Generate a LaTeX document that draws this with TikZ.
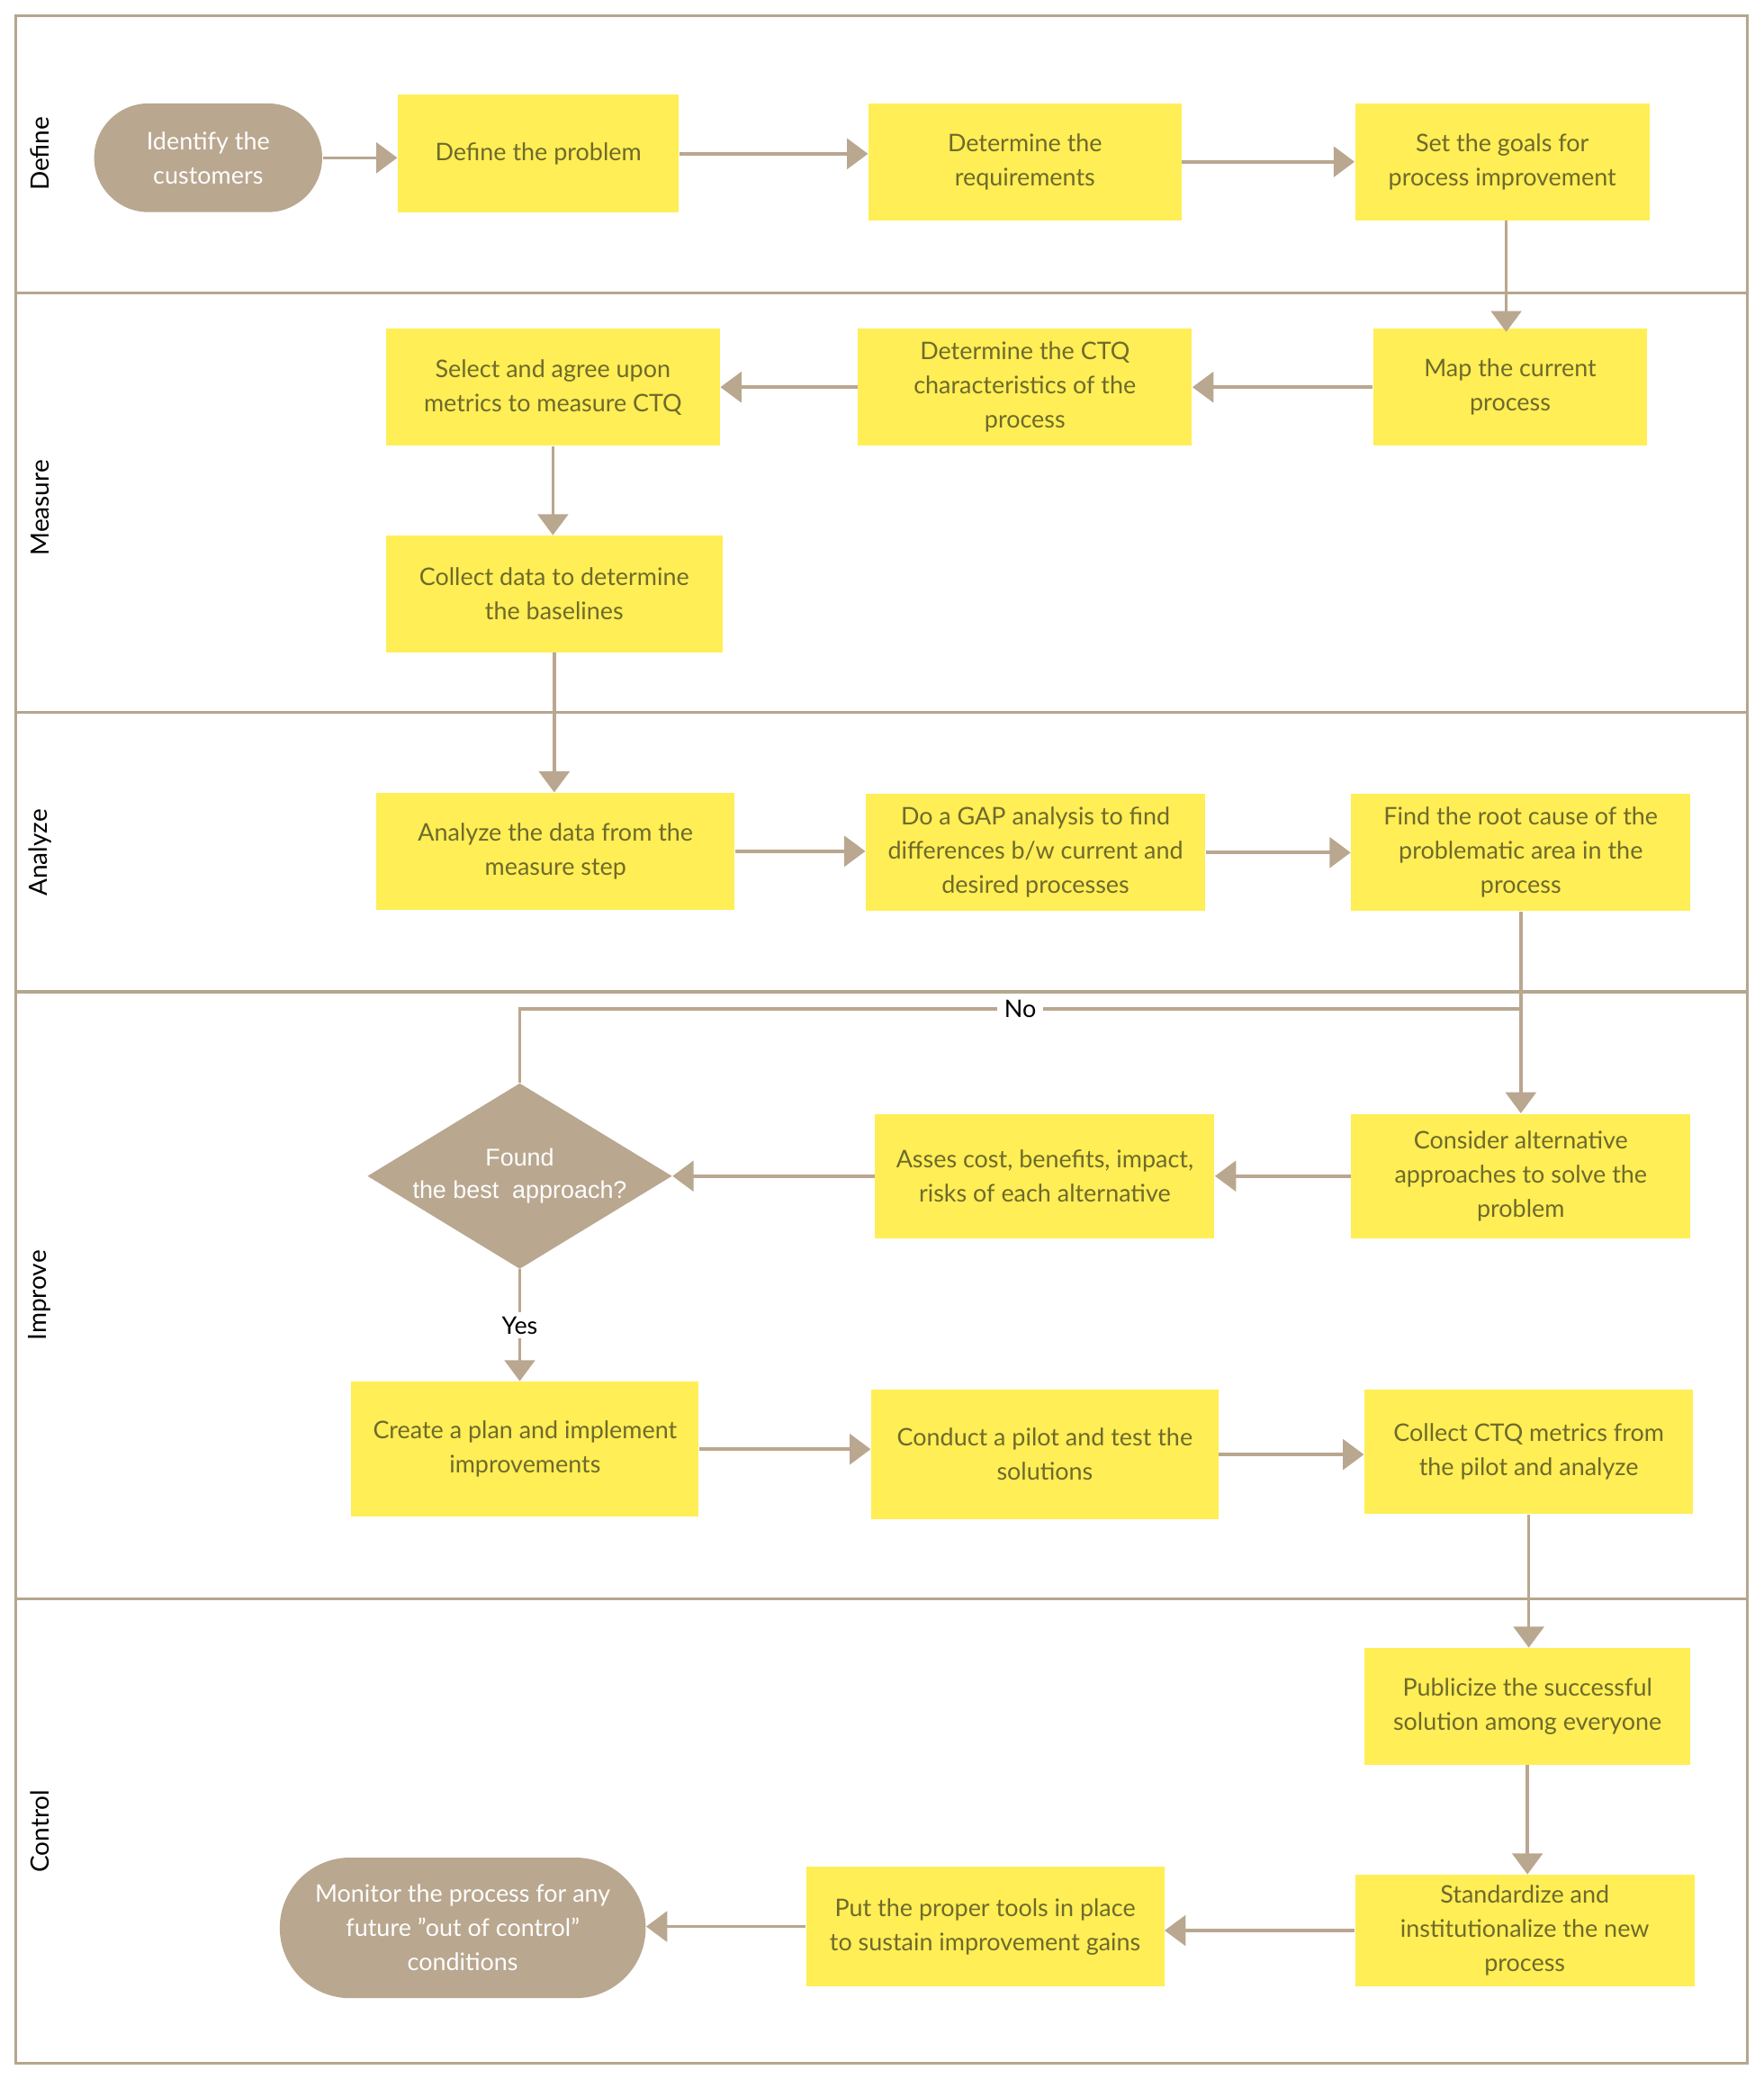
\documentclass[tikz,border=0pt]{standalone}
\usepackage{fontspec}
\setmainfont{Lato}
\newfontfamily\diafont{Liberation Sans}
\usetikzlibrary{arrows.meta,shapes.geometric,shapes.misc}
\definecolor{tan}{HTML}{B9A78F}
\definecolor{note}{HTML}{FFEE55}
\definecolor{ink}{HTML}{6E6A2C}
\definecolor{lane}{HTML}{B5A68E}
\tikzset{
    box/.style={rectangle,fill=note,text=ink,align=center,inner sep=0pt},
    flow/.style={draw=tan,line width=1.4pt,-{Triangle[length=9pt,width=13pt]}}
}
\begin{document}
\begin{tikzpicture}[x=0.02cm,y=-0.02cm,font=\fontsize{10.4}{14.7}\selectfont]
        \useasboundingbox (0,0) rectangle (1330,1568);
        % swimlanes
        \draw[lane,line width=1.2pt] (12,12) rectangle (1318,1556);
        \foreach \y in {221,537,748,1206}
            \draw[lane,line width=1.2pt] (12,\y) -- (1318,\y);
        \foreach \y/\t in {116/Define,383/Measure,643/Analyze,977/Improve,1381/Control}
            \node[rotate=90,font=\fontsize{10.8}{12}\selectfont] at (30,\y) {\t};
        \begin{scope}[every node/.style={box}]
            \node (define) [minimum width=212*0.02cm,minimum height=89*0.02cm] at (406,116) {Define the problem};
            \node (require) [minimum width=236*0.02cm,minimum height=88*0.02cm] at (773,122) {Determine the\\requirements};
            \node (goals) [minimum width=222*0.02cm,minimum height=88*0.02cm] at (1133,122) {Set the goals for\\process improvement};
            \node (map) [minimum width=207*0.02cm,minimum height=88*0.02cm] at (1139,292) {Map the current\\process};
            \node (ctq) [minimum width=252*0.02cm,minimum height=88*0.02cm] at (773,292) {Determine the CTQ\\characteristics of the\\process};
            \node (metrics) [minimum width=252*0.02cm,minimum height=88*0.02cm] at (417,292) {Select and agree upon\\metrics to measure CTQ};
            \node (collect) [minimum width=254*0.02cm,minimum height=88*0.02cm] at (418,448) {Collect data to determine\\the baselines};
            \node (analyze) [minimum width=270*0.02cm,minimum height=88*0.02cm] at (419,642) {Analyze the data from the\\measure step};
            \node (gap) [minimum width=256*0.02cm,minimum height=88*0.02cm] at (781,643) {Do a GAP analysis to find\\differences b/w current and\\desired processes};
            \node (root) [minimum width=256*0.02cm,minimum height=88*0.02cm] at (1147,643) {Find the root cause of the\\problematic area in the\\process};
            \node (consider) [minimum width=256*0.02cm,minimum height=94*0.02cm] at (1147,887) {Consider alternative\\approaches to solve the\\problem};
            \node (asses) [minimum width=256*0.02cm,minimum height=94*0.02cm] at (788,887) {Asses cost, benefits, impact,\\risks of each alternative};
            \node (plan) [minimum width=262*0.02cm,minimum height=102*0.02cm] at (396,1093) {Create a plan and implement\\improvements};
            \node (pilot) [minimum width=262*0.02cm,minimum height=98*0.02cm] at (788,1097) {Conduct a pilot and test the\\solutions};
            \node (ctqpilot) [minimum width=248*0.02cm,minimum height=94*0.02cm] at (1153,1095) {Collect CTQ metrics from\\the pilot and analyze};
            \node (publicize) [minimum width=246*0.02cm,minimum height=88*0.02cm] at (1152,1287) {Publicize the successful\\solution among everyone};
            \node (standard) [minimum width=256*0.02cm,minimum height=84*0.02cm] at (1150,1456) {Standardize and\\institutionalize the new\\process};
            \node (tools) [minimum width=270*0.02cm,minimum height=90*0.02cm] at (743,1453) {Put the proper tools in place\\to sustain improvement gains};
        \end{scope}
        \begin{scope}[every node/.style={rounded rectangle,fill=tan,text=white,align=center,inner sep=0pt}]
            \node (customers) [minimum width=172*0.02cm,minimum height=82*0.02cm] at (157,119) {Identify the\\customers};
            \node (monitor) [minimum width=276*0.02cm,minimum height=106*0.02cm] at (349,1454) {Monitor the process for any\\future "out of control"\\conditions};
        \end{scope}
        \node (found) [diamond,fill=tan,text=white,align=center,inner sep=0pt,minimum width=220*0.02cm,minimum height=134*0.02cm,aspect=1.64,font=\diafont\fontsize{10.4}{14}\selectfont] at (392,887) {Found\\the best\ \ approach?};
        \coordinate (nr) at (1147,761);
        \coordinate (nl) at (392,761);
        \begin{scope}[every path/.style={flow}]
            \draw (customers.east) -- (customers.east -| define.west);
            \draw (define.east) -- (define.east -| require.west);
            \draw (require.east) -- (require.east -| goals.west);
            \draw (goals.south) ++(3,0) -- ++(0,84);
            \draw (map.west) -- (map.west -| ctq.east);
            \draw (ctq.west) -- (ctq.west -| metrics.east);
            \draw (metrics.south) -- (metrics.south |- collect.north);
            \draw (collect.south) -- (collect.south |- analyze.north);
            \draw (analyze.east) -- (analyze.east -| gap.west);
            \draw (gap.east) -- (gap.east -| root.west);
            \draw (root) -- (consider);
            \draw (consider) -- (asses);
            \draw (asses) -- (found);
            \draw (found.south) -- node[fill=white,text=black,inner sep=2pt] {Yes} (found.south |- plan.north);
            \draw (plan.east) -- (plan.east -| pilot.west);
            \draw (pilot.east) -- (pilot.east -| ctqpilot.west);
            \draw (ctqpilot.south) -- (ctqpilot.south |- publicize.north);
            \draw (publicize.south) -- (publicize.south |- standard.north);
            \draw (standard.west) -- (standard.west -| tools.east);
            \draw (tools.west) -- (tools.west -| monitor.east);
        \end{scope}
        \draw[draw=tan,line width=1.4pt] (nr) -- node[fill=white,text=black,inner sep=3pt] {No} (nl) -- (found.north);
\end{tikzpicture}
\end{document}
